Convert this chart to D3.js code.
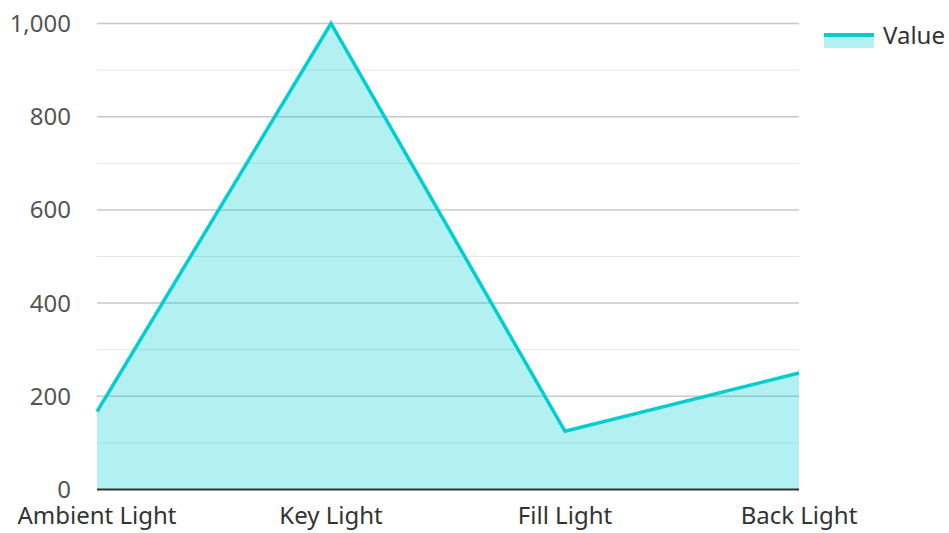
<!DOCTYPE html>
<html>
<head>
<meta charset="utf-8">
<script src="https://cdn.jsdelivr.net/npm/d3@7"></script>
<style>
  body { margin: 0; background: #fff; }
  text { font-family: "Noto Sans", "Open Sans", sans-serif; }
</style>
</head>
<body>
<script>
const categories = ["Ambient Light", "Key Light", "Fill Light", "Back Light"];
const values = [167, 1000, 125, 250];
const yTicks = [0, 200, 400, 600, 800, 1000];
const seriesName = "Value";

const main = () => {
  const width = 949, height = 533;
  const left = 97, right = 799, top = 23.5, bottom = 489.5;
  const color = "#00ced1";

  const svg = d3.select("body").append("svg")
    .attr("width", width)
    .attr("height", height);

  const x = d3.scalePoint().domain(categories).range([left, right]);
  const y = d3.scaleLinear().domain([0, 1000]).range([bottom, top]);

  // minor grid
  svg.append("g").selectAll("line")
    .data(d3.range(100, 1000, 200))
    .enter().append("line")
    .attr("x1", left).attr("x2", right)
    .attr("y1", d => y(d)).attr("y2", d => y(d))
    .attr("stroke", "#e6e6e6").attr("stroke-width", 1);

  // major grid
  svg.append("g").selectAll("line")
    .data(yTicks.filter(d => d > 0))
    .enter().append("line")
    .attr("x1", left).attr("x2", right)
    .attr("y1", d => y(d)).attr("y2", d => y(d))
    .attr("stroke", "#c8c8c8").attr("stroke-width", 1.5);

  const pts = categories.map((c, i) => ({ c, v: values[i] }));

  const area = d3.area()
    .x(d => x(d.c))
    .y0(y(0))
    .y1(d => y(d.v));
  svg.append("path")
    .datum(pts)
    .attr("d", area)
    .attr("fill", color)
    .attr("fill-opacity", 0.3);

  const line = d3.line()
    .x(d => x(d.c))
    .y(d => y(d.v));
  svg.append("path")
    .datum(pts)
    .attr("d", line)
    .attr("fill", "none")
    .attr("stroke", color)
    .attr("stroke-width", 3.5)
    .attr("stroke-linejoin", "miter");

  // x axis line
  svg.append("line")
    .attr("x1", left).attr("x2", right)
    .attr("y1", bottom).attr("y2", bottom)
    .attr("stroke", "#333").attr("stroke-width", 2);

  // y labels
  svg.append("g").selectAll("text")
    .data(yTicks)
    .enter().append("text")
    .attr("x", 71)
    .attr("y", d => y(d))
    .attr("dy", "0.35em")
    .attr("text-anchor", "end")
    .attr("font-size", 24)
    .attr("fill", "#555")
    .text(d => d3.format(",")(d));

  // x labels
  svg.append("g").selectAll("text")
    .data(categories)
    .enter().append("text")
    .attr("x", d => x(d))
    .attr("y", 524)
    .attr("text-anchor", "middle")
    .attr("font-size", 24)
    .attr("fill", "#333")
    .text(d => d);

  // legend
  const lg = svg.append("g");
  lg.append("rect")
    .attr("x", 824).attr("y", 35)
    .attr("width", 50).attr("height", 13)
    .attr("fill", color).attr("fill-opacity", 0.3);
  lg.append("line")
    .attr("x1", 824).attr("x2", 874)
    .attr("y1", 35).attr("y2", 35)
    .attr("stroke", color).attr("stroke-width", 4);
  lg.append("text")
    .attr("x", 883).attr("y", 36)
    .attr("dy", "0.35em")
    .attr("font-size", 24)
    .attr("fill", "#333")
    .text(seriesName);
};

window.onload = main;
</script>
</body>
</html>
